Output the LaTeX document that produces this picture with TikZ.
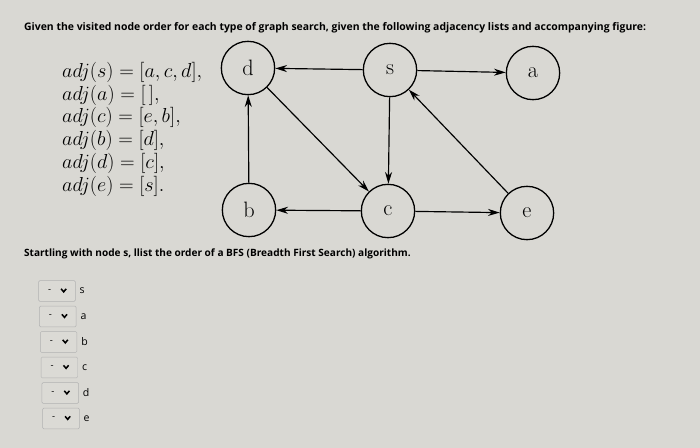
\documentclass[tikz,border=0pt]{standalone}
\usepackage{fontspec}
\setsansfont{Open Sans}
\usetikzlibrary{arrows.meta}
\definecolor{bg}{HTML}{D9D8D3}
\begin{document}
\begin{tikzpicture}[x=0.03cm,y=-0.03cm,
  vtx/.style={circle,draw,line width=1.1pt,minimum size=1.6cm,inner sep=0pt,font=\fontsize{19}{19}\selectfont},
  edge/.style={line width=1pt,-{Stealth[length=10pt,width=6pt]}},
  ddbox/.style={draw=gray!60,rounded corners=1pt,minimum width=1.1cm,minimum height=0.62cm,inner sep=0pt,fill=bg!95!white},
  ddlab/.style={anchor=west,font=\sffamily\fontsize{9}{9}\selectfont}]
\fill[bg] (0,0) rectangle (700,448);
\useasboundingbox (0,0) rectangle (700,448);
\node[anchor=west,font=\sffamily\bfseries\fontsize{8.9}{10}\selectfont] (title) at (20,28) {Given the visited node order for each type of graph search, given the following adjacency lists and accompanying figure:};
\node[anchor=north west,align=left,font=\fontsize{17}{19.5}\selectfont] (adj) at (58,58) {$adj(s)=[a,c,d],$\\ $adj(a)=[\,],$\\ $adj(c)=[e,b],$\\ $adj(b)=[d],$\\ $adj(d)=[c],$\\ $adj(e)=[s].$};
\node[vtx] (d) at (248,68) {d};
\node[vtx] (s) at (390,70) {s};
\node[vtx] (a) at (533,73) {a};
\node[vtx] (b) at (249,210) {b};
\node[vtx] (c) at (388,211) {c};
\node[vtx] (e) at (527,213) {e};
\draw[edge] (s) -- (d);
\draw[edge] (s) -- (a);
\draw[edge] (s) -- (c);
\draw[edge] (d) -- (c);
\draw[edge] (b) -- (d);
\draw[edge] (c) -- (b);
\draw[edge] (c) -- (e);
\draw[edge] (e) -- (s);
\node[anchor=west,font=\sffamily\bfseries\fontsize{8.6}{10}\selectfont] (q) at (20,254) {Startling with node s, llist the order of a BFS (Breadth First Search) algorithm.};
\foreach \l/\i in {s/0,a/1,b/2,c/3,d/4,e/5}{
  \node[ddbox] (box\l) at (57+\i*0.8,291+\i*25.5) {};
  \node[font=\sffamily\fontsize{8}{8}\selectfont] (dash\l) at ([xshift=-0.22cm]box\l.center) {-};
  \coordinate (chev\l) at ([xshift=0.2cm,yshift=0.02cm]box\l.center);
  \draw[line width=1.3pt] ([xshift=-2.2pt,yshift=1.3pt]chev\l) -- ([yshift=-1.3pt]chev\l) -- ([xshift=2.2pt,yshift=1.3pt]chev\l);
  \node[ddlab] (lab\l) at (box\l.east) {\l};
}
\end{tikzpicture}
\end{document}
